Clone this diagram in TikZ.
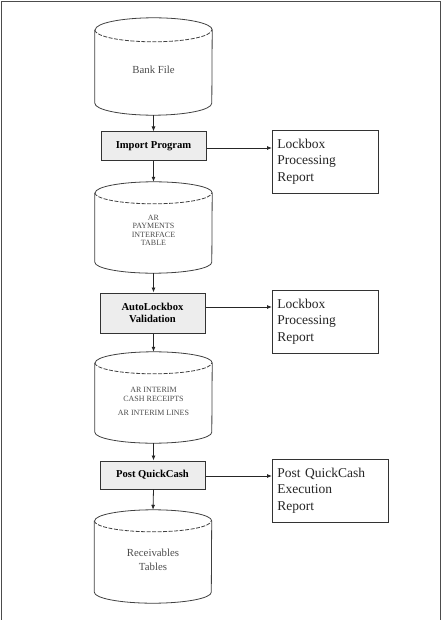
\documentclass[tikz,border=0pt]{standalone}
\usepackage{fontspec}
\setmainfont{Liberation Serif}
\usetikzlibrary{arrows.meta,calc}
\tikzset{
  cyl/.style={draw=black!75, line width=0.8pt},
  cyldash/.style={cyl, dash pattern=on 4pt off 1.5pt},
  cylbox/.style={rectangle, draw=none, minimum width=117pt, inner sep=0pt},
  cyltext/.style={align=center, font=\fontsize{10.8}{13.5}\selectfont, text=black!70, inner sep=0pt},
  captext/.style={align=center, font=\fontsize{8}{8.5}\selectfont, text=black!70, inner sep=0pt},
  procbox/.style={rectangle, draw=black!80, line width=1pt, fill=black!7, minimum width=105pt, align=center, font=\bfseries\fontsize{10.6}{12}\selectfont, inner sep=2pt},
  repbox/.style={rectangle, draw=black!80, line width=0.8pt, fill=white, minimum height=63pt, align=left, font=\fontsize{13.5}{16.5}\selectfont, text=black!85, inner sep=5pt, anchor=west},
  arr/.style={draw=black!85, line width=0.8pt, -{Latex[length=5pt,width=4pt]}},
  frame/.style={draw=black!70, line width=1.3pt}
}
\newcommand\cylout[2]{%
  \draw[cyl] ($(#1.north west)+(0,-#2)$) -- ($(#1.south west)+(0,#2)$)
    arc[start angle=180,end angle=360,x radius=58.5pt,y radius=#2 pt]
    -- ($(#1.north east)+(0,-#2)$)
    arc[start angle=0,end angle=180,x radius=58.5pt,y radius=#2 pt];
  \draw[cyldash] ($(#1.north west)+(0,-#2)$)
    arc[start angle=180,end angle=360,x radius=58.5pt,y radius=#2 pt];
}
\begin{document}
\begin{tikzpicture}[x=1pt,y=1pt]
\useasboundingbox (0,0) rectangle (444,-620);
\draw[frame] (1.5,-620) -- (1.5,-1.5) -- (440.5,-1.5) -- (440.5,-620);

% cylinders
\node[cylbox, minimum height=97pt, label={[cyltext,yshift=-3.5pt]center:Bank File}] (c1) at (153.5,-66.5) {};
\cylout{c1}{12}
\node[cylbox, minimum height=91pt, label={[captext,yshift=-3pt]center:AR\\PAYMENTS\\INTERFACE\\TABLE}] (c2) at (153.5,-227.5) {};
\cylout{c2}{11}
\node[cylbox, minimum height=91pt, label={[captext,yshift=-4pt]center:AR INTERIM\\CASH RECEIPTS\\[6pt]AR INTERIM LINES}] (c3) at (153.5,-397.5) {};
\cylout{c3}{11}
\node[cylbox, minimum height=93pt, label={[cyltext,yshift=-3.5pt]center:Receivables\\Tables}] (c4) at (153,-556.5) {};
\cylout{c4}{11}

% process boxes
\node[procbox, minimum height=29pt] (b1) at (153.5,-146.5) {Import Program};
\node[procbox, minimum height=40pt] (b2) at (152.5,-313) {AutoLockbox\\Validation};
\node[procbox, minimum height=28pt] (b3) at (152.5,-475) {Post QuickCash};

% report boxes
\node[repbox, text width=96pt] (r1) at (272,-161.5) {Lockbox\\Processing\\Report};
\node[repbox, text width=96pt] (r2) at (272,-321.5) {Lockbox\\Processing\\Report};
\node[repbox, text width=106pt] (r3) at (272,-490.5) {Post QuickCash\\Execution\\Report};

% vertical flow
\draw[arr] (c1.south) -- (c1.south |- b1.north);
\draw[arr] (c1.south |- b1.south) -- (c2.north);
\draw[arr] (c2.south) -- (c2.south |- b2.north);
\draw[arr] (c2.south |- b2.south) -- (c3.north);
\draw[arr] (c3.south) -- (c3.south |- b3.north);
\draw[arr] (c3.south |- b3.south) -- (c4.north);

% horizontal flow
\draw[arr] (b1.east |- 0,-148) -- (r1.west |- 0,-148);
\draw[arr] (b2.east |- 0,-307) -- (r2.west |- 0,-307);
\draw[arr] (b3.east |- 0,-476) -- (r3.west |- 0,-476);
\end{tikzpicture}
\end{document}
